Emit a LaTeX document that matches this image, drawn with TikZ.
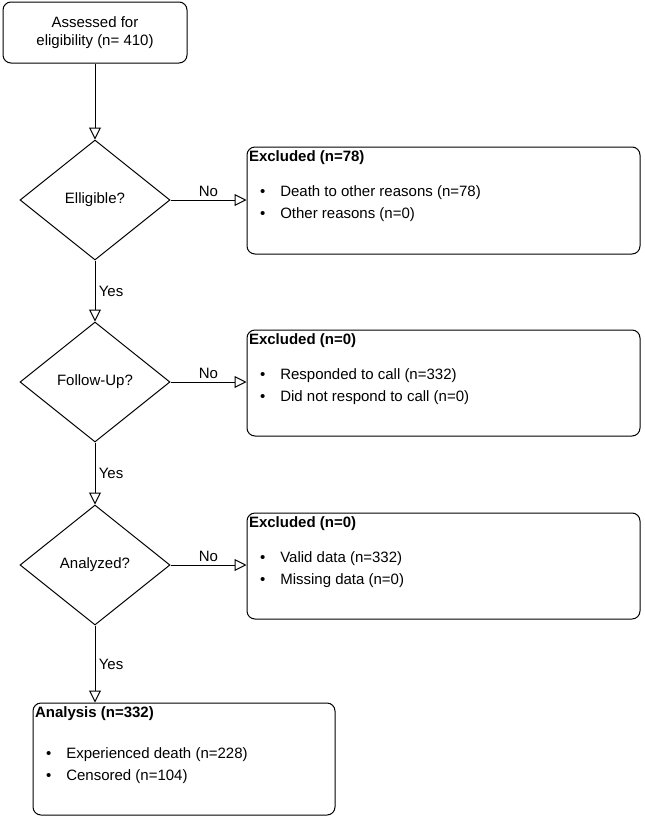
\documentclass[tikz,border=0pt]{standalone}
\usepackage{fontspec}
\setmainfont{Liberation Sans}
\usetikzlibrary{positioning,arrows.meta,shapes.geometric}

\tikzset{
  box/.style={draw,rounded corners=8pt,line width=1pt,inner sep=0pt},
  dec/.style={draw,diamond,aspect=1.25,line width=1pt,minimum width=150pt,minimum height=120pt,inner sep=0pt},
  arr/.style={line width=1pt,-{Triangle[open,length=12pt,width=12pt]}},
  lbl/.style={font=\fontsize{15}{18}\selectfont},
  head/.style={anchor=north west,font=\fontsize{15}{18}\selectfont\bfseries},
  items/.style={anchor=north west,align=left}
}

\begin{document}
\begin{tikzpicture}[x=1pt,y=-1pt,lbl]
    \useasboundingbox (0,0) rectangle (645,820);
    \node[box,minimum width=184pt,minimum height=61pt,align=center] (start) at (95,32.5) {Assessed for\\eligibility (n= 410)};
    \node[dec] (elig) at (95,200) {Elligible?};
    \node[dec] (fup) at (95,382) {Follow-Up?};
    \node[dec] (ana) at (95,565) {Analyzed?};

    % excluded boxes
    \node[box,minimum width=393pt,minimum height=107pt] (ex1) at (443.5,200.5) {};
    \node[box,minimum width=393pt,minimum height=106pt] (ex2) at (443.5,383) {};
    \node[box,minimum width=393pt,minimum height=106pt] (ex3) at (443.5,566) {};
    \node[box,minimum width=302pt,minimum height=112pt] (res) at (184,759) {};

    \node[head] (ex1h) at ([xshift=-1pt,yshift=-1pt]ex1.north west) {Excluded (n=78)};
    \node[items] (ex1l) at ([xshift=10pt,yshift=-36pt]ex1.north west) {\textbullet\quad Death to other reasons (n=78)\\[4pt]\textbullet\quad Other reasons (n=0)};
    \node[head] (ex2h) at ([xshift=-1pt,yshift=-1pt]ex2.north west) {Excluded (n=0)};
    \node[items] (ex2l) at ([xshift=10pt,yshift=-36pt]ex2.north west) {\textbullet\quad Responded to call (n=332)\\[4pt]\textbullet\quad Did not respond to call (n=0)};
    \node[head] (ex3h) at ([xshift=-1pt,yshift=-1pt]ex3.north west) {Excluded (n=0)};
    \node[items] (ex3l) at ([xshift=10pt,yshift=-36pt]ex3.north west) {\textbullet\quad Valid data (n=332)\\[4pt]\textbullet\quad Missing data (n=0)};
    \node[head] (resh) at ([xshift=-1pt,yshift=-1pt]res.north west) {Analysis (n=332)};
    \node[items] (resl) at ([xshift=10pt,yshift=-42pt]res.north west) {\textbullet\quad Experienced death (n=228)\\[4pt]\textbullet\quad Censored (n=104)};

    \draw[arr] (start) -- (elig);
    \draw[arr] (elig) -- (fup) node[right,pos=.5] {Yes};
    \draw[arr] (fup) -- (ana) node[right,pos=.5] {Yes};
    \draw[arr] (ana) -- (ana |- res.north) node[right,pos=.5] {Yes};
    \draw[arr] (elig) -- (ex1.west |- elig) node[above,pos=.5] {No};
    \draw[arr] (fup) -- (ex2.west |- fup) node[above,pos=.5] {No};
    \draw[arr] (ana) -- (ex3.west |- ana) node[above,pos=.5] {No};
\end{tikzpicture}
\end{document}
